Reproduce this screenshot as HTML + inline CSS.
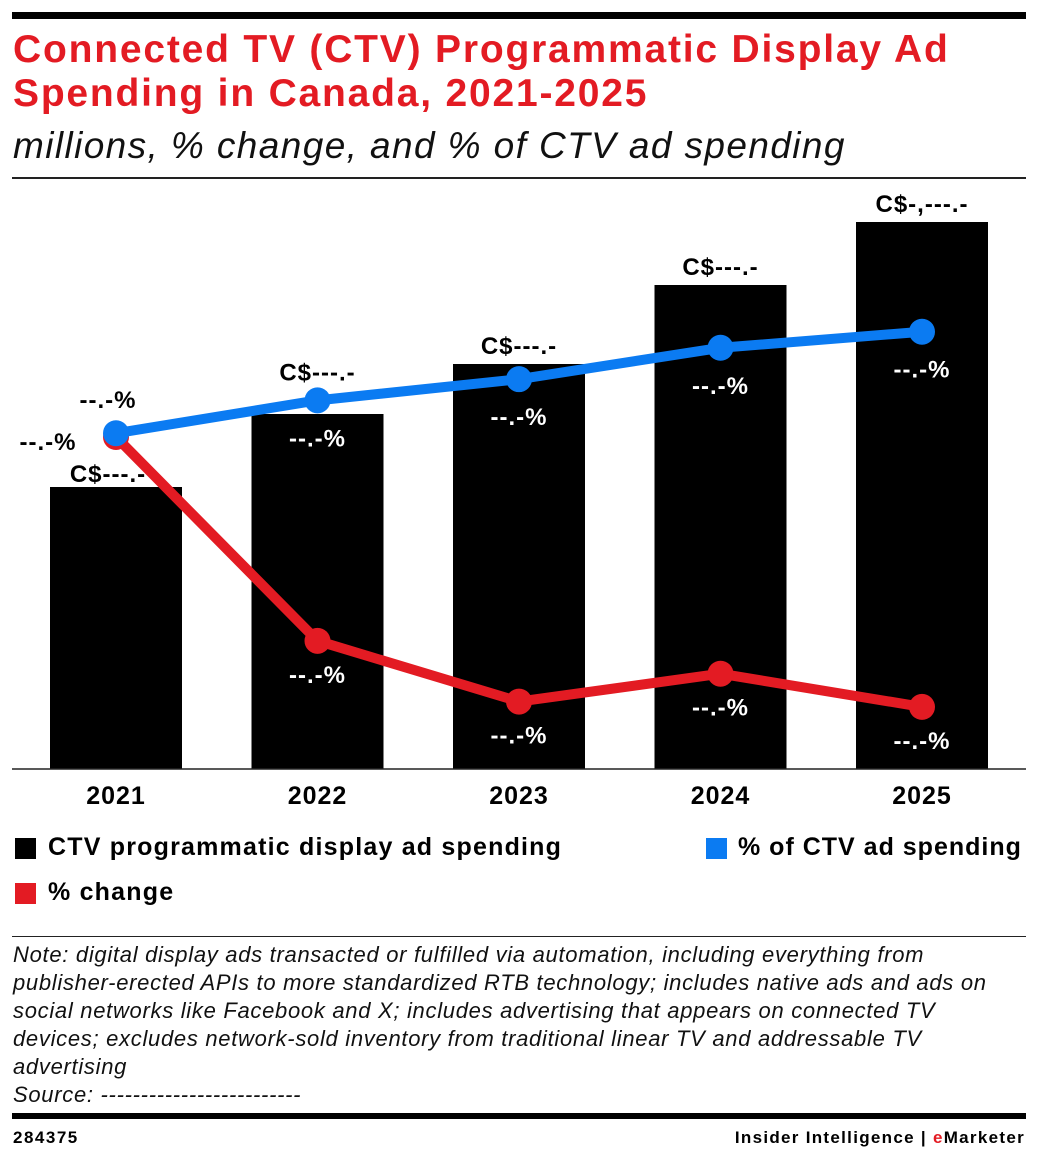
<!DOCTYPE html>
<html><head><meta charset="utf-8"><style>
body{margin:0;width:1038px;height:1163px;background:#fff;font-family:"Liberation Sans",sans-serif;position:relative;overflow:hidden}
.a{position:absolute}
</style></head><body>
<div class="a" style="left:12px;top:12px;width:1014px;height:7px;background:#000"></div>
<div class="a" style="left:13px;top:28px;width:960px;font-size:39px;letter-spacing:1.8px;font-weight:bold;color:#e31b23;line-height:44px">Connected TV (CTV) Programmatic Display Ad Spending in Canada, 2021-2025</div>
<div class="a" style="left:13px;top:125px;font-size:37px;letter-spacing:1.4px;font-style:italic;color:#111">millions, % change, and % of CTV ad spending</div>
<div class="a" style="left:12px;top:177px;width:1014px;height:2px;background:#222"></div>
<svg class="a" style="left:0;top:0" width="1038" height="830" id="chart"></svg>
<div class="a" style="left:15px;top:838px;width:21px;height:21px;background:#000"></div>
<div class="a" style="left:48px;top:833px;font-size:25px;letter-spacing:1.2px;font-weight:bold">CTV programmatic display ad spending</div>
<div class="a" style="left:706px;top:838px;width:21px;height:21px;background:#0b7bf2"></div>
<div class="a" style="left:738px;top:833px;font-size:25px;letter-spacing:1px;font-weight:bold">% of CTV ad spending</div>
<div class="a" style="left:15px;top:883px;width:21px;height:21px;background:#e31b23"></div>
<div class="a" style="left:48px;top:878px;font-size:25px;letter-spacing:1.2px;font-weight:bold">% change</div>
<div class="a" style="left:12px;top:936px;width:1014px;height:1px;background:#222"></div>
<div class="a" style="left:13px;top:941px;width:985px;font-size:22px;letter-spacing:0.7px;font-style:italic;line-height:28px;color:#111">Note: digital display ads transacted or fulfilled via automation, including everything from publisher-erected APIs to more standardized RTB technology; includes native ads and ads on social networks like Facebook and X; includes advertising that appears on connected TV devices; excludes network-sold inventory from traditional linear TV and addressable TV advertising<br>Source: -------------------------</div>
<div class="a" style="left:12px;top:1113px;width:1014px;height:6px;background:#000"></div>
<div class="a" style="left:13px;top:1128px;font-size:17px;letter-spacing:1.5px;font-weight:bold">284375</div>
<div class="a" style="right:13px;top:1128px;font-size:17px;letter-spacing:1.3px;font-weight:bold">Insider Intelligence | <span style="color:#e31b23">e</span>Marketer</div>
<script>
const years=["2021","2022","2023","2024","2025"];
const spending=[564,710,810,968,1094];
const spendLabels=["C$---.-","C$---.-","C$---.-","C$---.-","C$-,---.-"];
const shareOfCtv=[46,50.5,53.4,57.7,59.9];
const pctChange=[100,38.6,20.3,28.7,18.7];
const pctLabel="--.-%";
const svg=document.getElementById('chart');
const NS="http://www.w3.org/2000/svg";
const base=769;
const xc=i=>116+i*201.5;
const yBar=v=>base-v*0.5;
const yShare=p=>base-p*7.3;
const yChg=p=>base-p*3.32;
function mk(t,a){const e=document.createElementNS(NS,t);for(const k in a)e.setAttribute(k,a[k]);svg.appendChild(e);return e;}
function txt(x,y,s,fill,name,size){const t=mk('text',{x:x,y:y,'font-size':size||24,'letter-spacing':1,'font-weight':'bold','text-anchor':'middle',fill:fill,'font-family':'Liberation Sans, sans-serif'});t.textContent=s;return t;}
years.forEach((y,i)=>{
 const r=mk('rect',{x:xc(i)-66,y:yBar(spending[i]),width:132,height:base-yBar(spending[i]),fill:'#000'});
 
 
 txt(xc(i),base+35,y,'#000','x-label-'+y,25);
});
const ax=mk('line',{x1:12,x2:1026,y1:base,y2:base,stroke:'#222','stroke-width':1.5});


function series(vals,ys,color,name){
 const p=mk('polyline',{points:vals.map((v,i)=>xc(i)+','+ys(v)).join(' '),fill:'none',stroke:color,'stroke-width':10,'stroke-linejoin':'round'});
 
 
 vals.forEach((v,i)=>{const c=mk('circle',{cx:xc(i),cy:ys(v),r:13,fill:color});
  
  });
}
series(pctChange,yChg,'#e31b23','change');
series(shareOfCtv,yShare,'#0b7bf2','share');
years.forEach((y,i)=>{
 const ly=i==0?yBar(spending[i])-5:Math.min(yBar(spending[i])-10,yShare(shareOfCtv[i])-20);
 txt(xc(i)-(i==0?8:0),ly,spendLabels[i],'#000','bar-label-'+y);
});
shareOfCtv.forEach((v,i)=>{ if(i==0) txt(xc(i)-8,yShare(v)-25,pctLabel,'#000','share-label-'+years[i]); else txt(xc(i),yShare(v)+46,pctLabel,'#fff','share-label-'+years[i]);});
pctChange.forEach((v,i)=>{ if(i==0) txt(xc(i)-68,yChg(v)+13,pctLabel,'#000','change-label-'+years[i]); else txt(xc(i),yChg(v)+42,pctLabel,'#fff','change-label-'+years[i]);});
</script>
</body></html>
